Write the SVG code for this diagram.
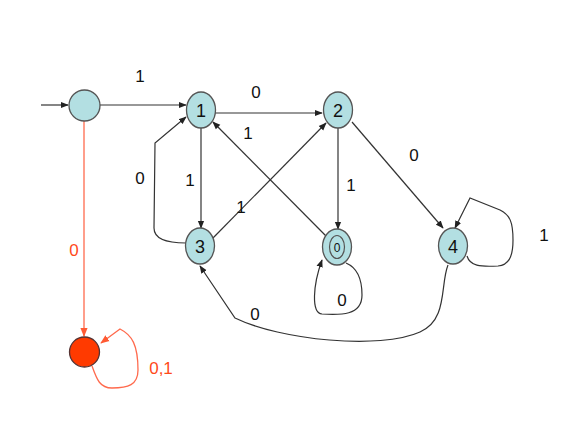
<svg xmlns="http://www.w3.org/2000/svg" width="584" height="433" viewBox="0 0 584 433">
<style>
.n{fill:#b3dfe2;stroke:#555;stroke-width:1.3}
.e{fill:none;stroke:#333;stroke-width:1.2}
.r{fill:none;stroke:#ff6a4d;stroke-width:1.3}
.t{font-family:"Liberation Sans",Arial,sans-serif;font-size:17px;fill:#111;text-anchor:middle}
.lr{fill:#ff4a1a}
.nl{font-family:"Liberation Sans",Arial,sans-serif;font-size:18px;fill:#111;text-anchor:middle}
</style>
<defs>
<marker id="a" viewBox="0 0 10 10" refX="9" refY="5" markerWidth="8" markerHeight="8" markerUnits="userSpaceOnUse" orient="auto"><path d="M0,1 L10,5 L0,9 z" fill="#222"/></marker>
<marker id="ar" viewBox="0 0 10 10" refX="9" refY="5" markerWidth="9" markerHeight="9" markerUnits="userSpaceOnUse" orient="auto"><path d="M0,1 L10,5 L0,9 z" fill="#ff5a33"/></marker>
</defs>
<g id="connectors">
<line class="e" x1="41" y1="105" x2="68" y2="105" marker-end="url(#a)"/>
<line class="e" x1="100" y1="105" x2="186" y2="105" marker-end="url(#a)"/>
<text class="t" x="140" y="82">1</text>
<line class="e" x1="215" y1="113" x2="322" y2="113" marker-end="url(#a)"/>
<text class="t" x="256" y="98">0</text>
<line class="e" x1="352" y1="122" x2="443" y2="228" marker-end="url(#a)"/>
<text class="t" x="414" y="161">0</text>
<line class="e" x1="338" y1="128" x2="338" y2="229" marker-end="url(#a)"/>
<text class="t" x="351" y="191">1</text>
<line class="e" x1="201" y1="128" x2="201" y2="228" marker-end="url(#a)"/>
<text class="t" x="190" y="186">1</text>
<path class="e" d="M186,243 C170,243 154,240 154,228 L155,143 L186,117" marker-end="url(#a)"/>
<text class="t" x="140" y="184">0</text>
<line class="e" x1="213" y1="238" x2="326" y2="123" marker-end="url(#a)"/>
<text class="t" x="241" y="213">1</text>
<line class="e" x1="326" y1="236" x2="213" y2="122" marker-end="url(#a)"/>
<text class="t" x="248" y="139">1</text>
<path class="e" d="M346,263 C358,268 362,280 362,295 C362,316 340,315 322,314 C311,313 313,285 322,260" marker-end="url(#a)"/>
<text class="t" x="342" y="306">0</text>
<path class="e" d="M467,256 C470,266 480,267 498,266 C508,265 513,258 513,240 C513,222 510,215 500,210 L470,198 L455,228" marker-end="url(#a)"/>
<text class="t" x="544" y="241">1</text>
<path class="e" d="M448,265 C440,285 448,320 420,332 C380,350 280,340 235,318 L200,266" marker-end="url(#a)"/>
<text class="t" x="255" y="320">0</text>
<line class="r" x1="84" y1="121" x2="84" y2="336" marker-end="url(#ar)"/>
<text class="t lr" x="74" y="256">0</text>
<path class="r" d="M92,366 C97,380 100,388 112,388 C128,388 138,385 138,370 C138,345 132,335 120,329 L101,343" marker-end="url(#ar)"/>
<text class="t lr" x="161" y="374">0,1</text>
</g>
<g id="start"><circle class="n" cx="84.5" cy="105.5" r="15.5"/></g>
<g id="s1"><ellipse class="n" cx="201" cy="110" rx="14.5" ry="18"/><text class="nl" x="201" y="116.5">1</text></g>
<g id="s2"><ellipse class="n" cx="338" cy="110" rx="14.5" ry="18"/><text class="nl" x="338" y="116.5">2</text></g>
<g id="s3"><ellipse class="n" cx="200" cy="246" rx="14.5" ry="18"/><text class="nl" x="200" y="252.5">3</text></g>
<g id="s0"><ellipse class="n" cx="337" cy="247" rx="14.5" ry="18"/><ellipse cx="337" cy="247" rx="7.5" ry="11.5" fill="none" stroke="#555" stroke-width="1.2"/><text class="t" style="font-size:12px" x="337" y="251.5">0</text></g>
<g id="s4"><ellipse class="n" cx="453" cy="246" rx="14.5" ry="18"/><text class="nl" x="453" y="252.5">4</text></g>
<g id="dead"><circle cx="84.5" cy="352" r="15" fill="#ff3a00" stroke="#553333" stroke-width="1.3"/></g>
</svg>
